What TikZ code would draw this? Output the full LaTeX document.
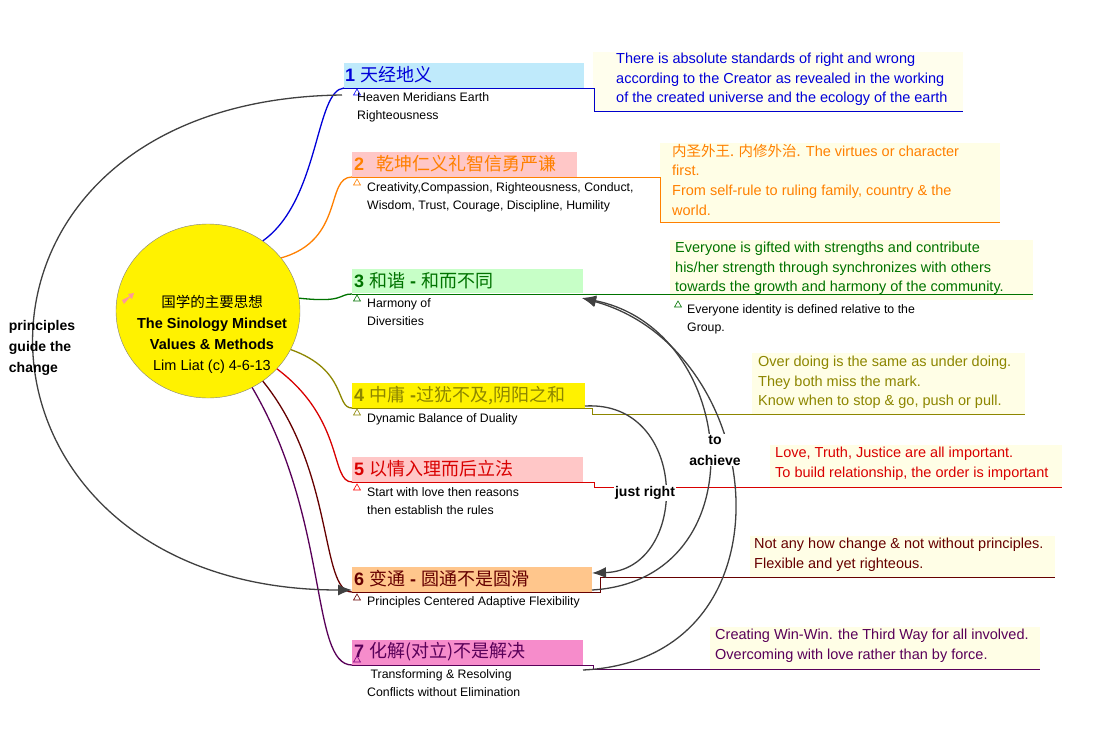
\documentclass[tikz,border=0pt]{standalone}
\usepackage{fontspec}
\setmainfont{Liberation Sans}
\newfontfamily\cjk{Noto Sans CJK SC}
\usetikzlibrary{arrows.meta,shapes.geometric}
\begin{document}
\begin{tikzpicture}[x=1pt,y=-1pt,
  title/.style={anchor=west,inner sep=0pt,font=\fontsize{18}{20}\selectfont},
  sub/.style={anchor=north west,inner sep=0pt,align=left,font=\fontsize{12.3}{18}\selectfont},
  note/.style={anchor=north west,inner sep=0pt,align=left,font=\fontsize{14.5}{19.6}\selectfont},
  rel/.style={draw=black!75,line width=1.3pt,-{Latex[length=14pt,width=11pt]}},
  lab/.style={font=\bfseries\fontsize{14}{21}\selectfont,align=left,inner sep=0pt},
  tri/.style={draw,line width=0.6pt},
  br/.style={line width=1.3pt}]
\useasboundingbox (0,0) rectangle (1112,753);
\fill[white] (0,0) rectangle (1112,753);
% note boxes
\fill[yellow!7] (593,52) rectangle (963,111);
\fill[yellow!10] (660,143) rectangle (1000,222);
\fill[yellow!10] (670,240) rectangle (1033,300);
\fill[yellow!10] (752,353) rectangle (1025,414);
\fill[yellow!10] (770,445) rectangle (1062,487);
\fill[yellow!10] (750,536) rectangle (1055,577);
\fill[yellow!10] (710,627) rectangle (1040,669);
% topic boxes
\fill[cyan!25] (344,63) rectangle (584,88);
\fill[red!22] (352,152) rectangle (577,177);
\fill[green!22] (352,269) rectangle (583,293);
\fill[yellow] (352,383) rectangle (585,408);
\fill[red!22] (352,457) rectangle (583,482);
\fill[orange!45] (352,567) rectangle (592,592);
\fill[magenta!45] (352,640) rectangle (583,665);
% underlines
\draw[blue!80!black,line width=0.8pt] (344,88) -- (594,88) -- (594,111) -- (963,111);
\draw[orange,line width=0.8pt] (352,177) -- (660,177) -- (660,222) -- (1000,222);
\draw[green!45!black,line width=0.8pt] (352,294) -- (1033,294);
\draw[olive,line width=0.8pt] (352,408) -- (592,408) -- (592,414) -- (1025,414);
\draw[red!85!black,line width=0.8pt] (352,482) -- (594,482) -- (594,487) -- (1062,487);
\draw[red!40!black,line width=0.8pt] (352,592) -- (600,592) -- (600,577) -- (1055,577);
\draw[violet!70!black,line width=0.8pt] (352,665) -- (593,665) -- (593,669) -- (1040,669);
% centre
\node[draw=gray,fill=yellow,ellipse,minimum width=184pt,minimum height=174pt,inner sep=0pt] (c) at (208,311) {};
\node[align=center,inner sep=0pt,font=\fontsize{14.5}{21}\selectfont] (ct) at (212,334) {{\cjk 国学的主要思想}\\\textbf{The Sinology Mindset}\\\textbf{Values \& Methods}\\Lim Liat (c) 4-6-13};
\fill[red!40] (122,300) -- (130,296) -- (128,294) -- (134,293) -- (132,299) -- (130,297) -- (124,304) -- cycle;
% titles
\node[title,text=blue!85!black] (t1) at (345,75) {\textbf{1} {\cjk 天经地义}};
\node[title,text=orange] (t2) at (354,164) {\textbf{2}\hspace{12pt}{\cjk 乾坤仁义礼智信勇严谦}};
\node[title,text=green!45!black] (t3) at (354,281) {\textbf{3} {\cjk 和谐} \textbf{-} {\cjk 和而不同}};
\node[title,text=olive] (t4) at (354,396) {\textbf{4} {\cjk 中庸} \textbf{-}{\cjk 过犹不及,阴阳之和}};
\node[title,text=red!85!black] (t5) at (354,469) {\textbf{5} {\cjk 以情入理而后立法}};
\node[title,text=red!40!black] (t6) at (354,579) {\textbf{6} {\cjk 变通} \textbf{-} {\cjk 圆通不是圆滑}};
\node[title,text=violet!70!black] (t7) at (354,652) {\textbf{7} {\cjk 化解(对立)不是解决}};
% small triangles
\foreach \x/\y/\c in {357/92/blue,357/182/orange,357/298/green!45!black,678/304/green!45!black,357/412/olive,357/487/red,357/597/red!40!black,357/659/violet}
  \draw[tri,\c] (\x-3.5,\y+3) -- (\x+3.5,\y+3) -- (\x,\y-3) -- cycle;
% subtexts
\node[sub] (s1) at (357,92) {Heaven Meridians Earth\\Righteousness};
\node[sub] (s2) at (367,182) {Creativity,Compassion, Righteousness, Conduct,\\Wisdom, Trust, Courage, Discipline, Humility};
\node[sub] (s3) at (367,298) {Harmony of\\Diversities};
\node[sub] (s3b) at (687,304) {Everyone identity is defined relative to the\\Group.};
\node[sub] (s4) at (367,413) {Dynamic Balance of Duality};
\node[sub] (s5) at (367,487) {Start with love then reasons\\then establish the rules};
\node[sub] (s6) at (367,596) {Principles Centered Adaptive Flexibility};
\node[sub] (s7) at (367,669) {\ Transforming \& Resolving\\Conflicts without Elimination};
% notes
\node[note,text=blue!85!black] (n1) at (616,53) {There is absolute standards of right and wrong\\according to the Creator as revealed in the working\\of the created universe and the ecology of the earth};
\node[note,text=orange] (n2) at (672,144) {{\cjk 内圣外王. 内修外治.} The virtues or character\\first.\\From self-rule to ruling family, country \& the\\world.};
\node[note,text=green!45!black] (n3) at (675,242) {Everyone is gifted with strengths and contribute\\his/her strength through synchronizes with others\\towards the growth and harmony of the community.};
\node[note,text=olive] (n4) at (758,356) {Over doing is the same as under doing.\\They both miss the mark.\\Know when to stop \& go, push or pull.};
\node[note,text=red!85!black] (n5) at (775,447) {Love, Truth, Justice are all important.\\To build relationship, the order is important};
\node[note,text=red!40!black] (n6) at (754,538) {Not any how change \& not without principles.\\Flexible and yet righteous.};
\node[note,text=violet!70!black] (n7) at (715,629) {Creating Win-Win. the Third Way for all involved.\\Overcoming with love rather than by force.};
% branches
\coordinate (b1) at (344,88); \coordinate (b2) at (352,177); \coordinate (b3) at (352,294);
\coordinate (b4) at (352,408); \coordinate (b5) at (352,482); \coordinate (b6) at (352,592); \coordinate (b7) at (352,665);
\draw[br,blue!85!black] (c.52) .. controls (320,200) and (315,90) .. (b1);
\draw[br,orange] (c.36) .. controls (345,240) and (325,177) .. (b2);
\draw[br,green!45!black] (c.8) .. controls (345,303) and (338,294) .. (b3);
\draw[br,olive] (c.-25) .. controls (348,370) and (335,408) .. (b4);
\draw[br,red!85!black] (c.-40) .. controls (345,420) and (330,482) .. (b5);
\draw[br,red!40!black] (c.-52) .. controls (335,470) and (320,592) .. (b6);
\draw[br,violet!70!black] (c.-60) .. controls (330,520) and (310,665) .. (b7);
% relationships
\coordinate (r1) at (342,95); \coordinate (r6) at (352,590);
\draw[rel] (r1) .. controls (-80,100) and (-60,590) .. (r6);
\node[lab] (l1) at (42,348) {principles\\guide the\\change};
\coordinate (r4) at (585,406); \coordinate (r6b) at (592,573);
\draw[rel] (r4) .. controls (690,400) and (690,570) .. (r6b);
\node[lab,fill=white,inner sep=1pt] (l2) at (645,493) {just right};
\coordinate (r6c) at (592,590); \coordinate (r3) at (582,298); \coordinate (r7) at (583,670);
\draw[rel] (r6c) .. controls (760,580) and (740,330) .. (r3);
\draw[rel] (r7) .. controls (800,660) and (770,350) .. (r3);
\node[lab,align=center,fill=white,inner sep=1pt] (l3) at (715,450) {to\\achieve};
\end{tikzpicture}
\end{document}
